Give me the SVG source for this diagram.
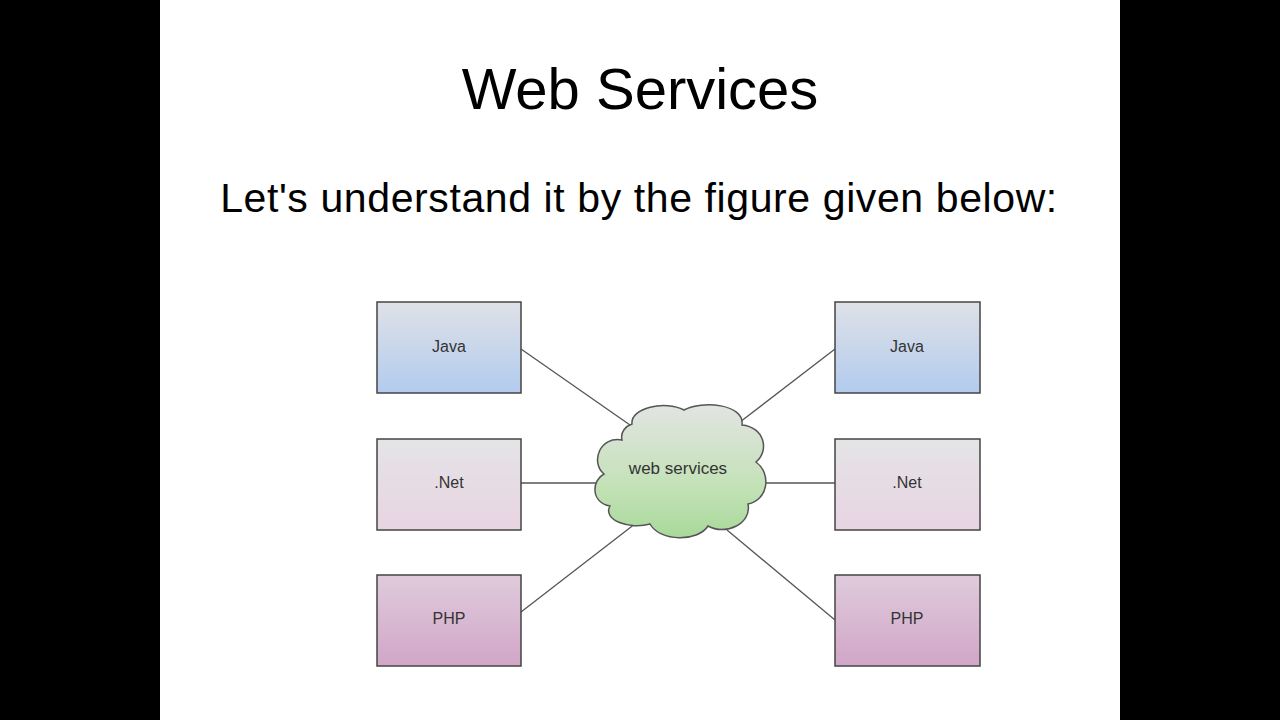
<svg xmlns="http://www.w3.org/2000/svg" width="1280" height="720" viewBox="0 0 1280 720">
<defs>
<linearGradient id="gJava" x1="0" y1="0" x2="0" y2="1"><stop offset="0" stop-color="#dfe1e7"/><stop offset="1" stop-color="#b2cbee"/></linearGradient>
<linearGradient id="gNet" x1="0" y1="0" x2="0" y2="1"><stop offset="0" stop-color="#e4e4e6"/><stop offset="1" stop-color="#e8d4e2"/></linearGradient>
<linearGradient id="gPhp" x1="0" y1="0" x2="0" y2="1"><stop offset="0" stop-color="#dfcbdc"/><stop offset="1" stop-color="#d1a6c7"/></linearGradient>
<linearGradient id="gCloud" x1="0" y1="0" x2="0" y2="1"><stop offset="0" stop-color="#e2e4e2"/><stop offset="0.6" stop-color="#c4e2b8"/><stop offset="1" stop-color="#a9d99a"/></linearGradient>
<style>
.box{stroke:#444;stroke-width:1.5}
.lbl{font-family:"Liberation Sans",Arial,sans-serif;font-size:16px;fill:#333;text-anchor:middle}
.con{stroke:#555;stroke-width:1.3;fill:none}
</style>
</defs>
<rect x="0" y="0" width="1280" height="720" fill="#000"/>
<rect x="160" y="0" width="960" height="720" fill="#fff"/>
<text x="640" y="109" font-family="Liberation Sans,Arial,sans-serif" font-size="58" text-anchor="middle" fill="#000">Web Services</text>
<text x="639" y="212" font-family="Liberation Sans,Arial,sans-serif" font-size="41" letter-spacing="0.6" text-anchor="middle" fill="#000">Let's understand it by the figure given below:</text>
<g id="connectors">
<line class="con" x1="521" y1="349" x2="630" y2="425"/>
<line class="con" x1="835" y1="349" x2="740" y2="422"/>
<line class="con" x1="521" y1="483" x2="604" y2="483"/>
<line class="con" x1="766" y1="483" x2="835" y2="483"/>
<line class="con" x1="521" y1="612" x2="640" y2="520"/>
<line class="con" x1="835" y1="620" x2="727" y2="530"/>
</g>
<g id="java-left"><rect class="box" x="377" y="302" width="144" height="91" fill="url(#gJava)"/><text class="lbl" x="449" y="352">Java</text></g>
<g id="net-left"><rect class="box" x="377" y="439" width="144" height="91" fill="url(#gNet)"/><text class="lbl" x="449" y="488">.Net</text></g>
<g id="php-left"><rect class="box" x="377" y="575" width="144" height="91" fill="url(#gPhp)"/><text class="lbl" x="449" y="624">PHP</text></g>
<g id="java-right"><rect class="box" x="835" y="302" width="145" height="91" fill="url(#gJava)"/><text class="lbl" x="907" y="352">Java</text></g>
<g id="net-right"><rect class="box" x="835" y="439" width="145" height="91" fill="url(#gNet)"/><text class="lbl" x="907" y="488">.Net</text></g>
<g id="php-right"><rect class="box" x="835" y="575" width="145" height="91" fill="url(#gPhp)"/><text class="lbl" x="907" y="624">PHP</text></g>
<g id="cloud">
<path d="M 632,424 C 630,408 665,400 684,410 C 702,400 745,404 742,425 C 764,427 770,450 756,462 C 772,474 768,500 748,504 C 752,524 725,536 708,526 C 698,542 660,542 650,524 C 630,530 602,520 610,506 C 590,502 592,480 604,474 C 590,462 600,436 622,440 C 620,432 626,426 632,424 Z" fill="url(#gCloud)" stroke="#555" stroke-width="1.5"/>
<text class="lbl" x="678" y="474" font-size="17" style="font-size:17px" fill="#222">web services</text>
</g>
</svg>
